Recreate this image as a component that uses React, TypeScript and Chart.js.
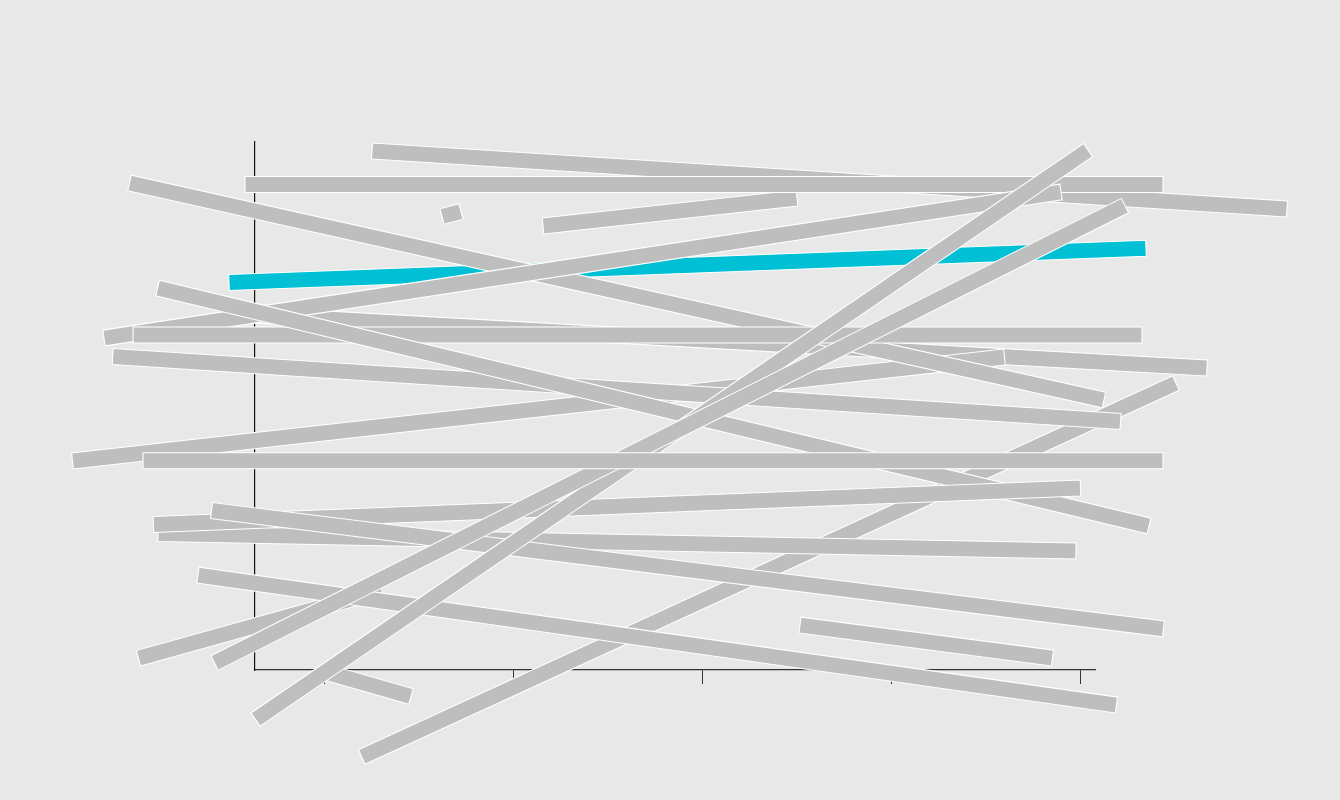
import { useEffect, useRef } from 'react';
import { Chart, registerables } from 'chart.js';

Chart.register(...registerables);

// Segments, listed in drawing order (first = bottom)
const segmentIds = ['S1', 'S3', 'S4', 'S2', 'S6', 'S21', 'S12', 'S11', 'S7', 'S5', 'S9', 'S10', 'S8', 'S15', 'S14', 'S16', 'S18', 'S17', 'S19', 'S23', 'S20', 'S22', 'S13'];
const startX = [6.35, 15.61, 28.97, -10.45, -12.57, 4.99, -11.11, -33.27, -25.73, -29.10, -25.26, -27.95, -22.02, -21.96, -22.57, -14.88, -24.55, -16.67, -0.26, 62.96, -9.06, -14.48, -23.94];
const startY = [98.30, 85.89, 84.09, 91.95, 73.39, -16.48, 67.39, 39.58, 92.23, 62.88, 63.45, 59.38, 72.35, 25.85, 27.56, 30.21, 2.23, 17.99, -0.19, 8.52, -9.38, 1.33, 39.64];
const endX = [127.38, 18.12, 62.57, 110.98, 108.73, 112.70, 116.80, 90.01, 103.17, 97.49, 108.20, 105.36, 109.13, 99.47, 100.07, 111.04, 7.67, 104.83, 11.51, 96.36, 101.06, 105.95, 110.98];
const endY = [87.31, 86.84, 89.39, 91.95, 79.87, 54.36, 57.20, 59.28, 51.14, 90.53, 63.45, 47.06, 27.27, 22.54, 34.47, 7.77, 15.06, -6.63, -5.02, 2.27, 98.48, 87.97, 39.64];
const highlightedId = 'S6';

const xTicks = [0, 25, 50, 75, 100];
const xMin = -9.127;
const xMax = 101.984;
const yMin = 0;
const yMax = 100;

const GREY = '#bebebe';
const CYAN = '#00c0d5';
const HALF_WIDTH = 8;

const thickSegments = {
  id: 'thickSegments',
  afterDatasetsDraw(chart: any) {
    const ctx = chart.ctx as CanvasRenderingContext2D;
    ctx.save();
    chart.data.datasets.forEach((ds: any, i: number) => {
      const meta = chart.getDatasetMeta(i);
      const a = meta.data[0];
      const b = meta.data[1];
      if (!a || !b) return;
      const dx = b.x - a.x;
      const dy = b.y - a.y;
      const len = Math.hypot(dx, dy) || 1;
      const nx = (-dy / len) * HALF_WIDTH;
      const ny = (dx / len) * HALF_WIDTH;
      ctx.beginPath();
      ctx.moveTo(a.x + nx, a.y + ny);
      ctx.lineTo(b.x + nx, b.y + ny);
      ctx.lineTo(b.x - nx, b.y - ny);
      ctx.lineTo(a.x - nx, a.y - ny);
      ctx.closePath();
      ctx.fillStyle = ds.backgroundColor;
      ctx.fill();
      ctx.lineWidth = 1.1;
      ctx.lineJoin = 'miter';
      ctx.strokeStyle = '#ffffff';
      ctx.stroke();
    });
    ctx.restore();
  },
};

export default function App() {
  const canvasRef = useRef<HTMLCanvasElement | null>(null);

  useEffect(() => {
    document.body.style.margin = '0';
    document.body.style.background = '#e8e8e8';
    const canvas = canvasRef.current;
    if (!canvas) return;

    const datasets = segmentIds.map((id, i) => ({
      label: id,
      data: [
        { x: startX[i], y: startY[i] },
        { x: endX[i], y: endY[i] },
      ],
      backgroundColor: id === highlightedId ? CYAN : GREY,
      borderColor: 'rgba(0,0,0,0)',
      borderWidth: 0,
      pointRadius: 0,
      pointHoverRadius: 0,
      showLine: false,
    }));

    const chart = new Chart(canvas, {
      type: 'scatter',
      data: { datasets },
      options: {
        animation: false,
        responsive: false,
        devicePixelRatio: window.devicePixelRatio || 1,
        events: [],
        layout: { padding: { left: 255, right: 245, top: 142, bottom: 116 } },
        plugins: {
          legend: { display: false },
          tooltip: { enabled: false },
          title: { display: false },
        },
        scales: {
          x: {
            type: 'linear',
            min: xMin,
            max: xMax,
            afterBuildTicks: (scale: any) => {
              scale.ticks = xTicks.map((v) => ({ value: v }));
            },
            ticks: { display: false },
            grid: {
              display: true,
              drawOnChartArea: false,
              drawTicks: true,
              tickLength: 14,
              color: '#333333',
              tickColor: '#333333',
              lineWidth: 1,
            },
            border: { display: true, color: '#333333', width: 1.2 },
          },
          y: {
            type: 'linear',
            min: yMin,
            max: yMax,
            ticks: { display: false },
            grid: { display: false, drawTicks: false },
            border: { display: true, color: '#111111', width: 1.2 },
          },
        },
      },
      plugins: [thickSegments],
    });

    return () => chart.destroy();
  }, []);

  return (
    <div style={{ position: 'fixed', left: 0, top: 0, width: 1340, height: 800, background: '#e8e8e8' }}>
      <canvas ref={canvasRef} width={1340} height={800} style={{ display: 'block', width: 1340, height: 800 }} />
    </div>
  );
}
